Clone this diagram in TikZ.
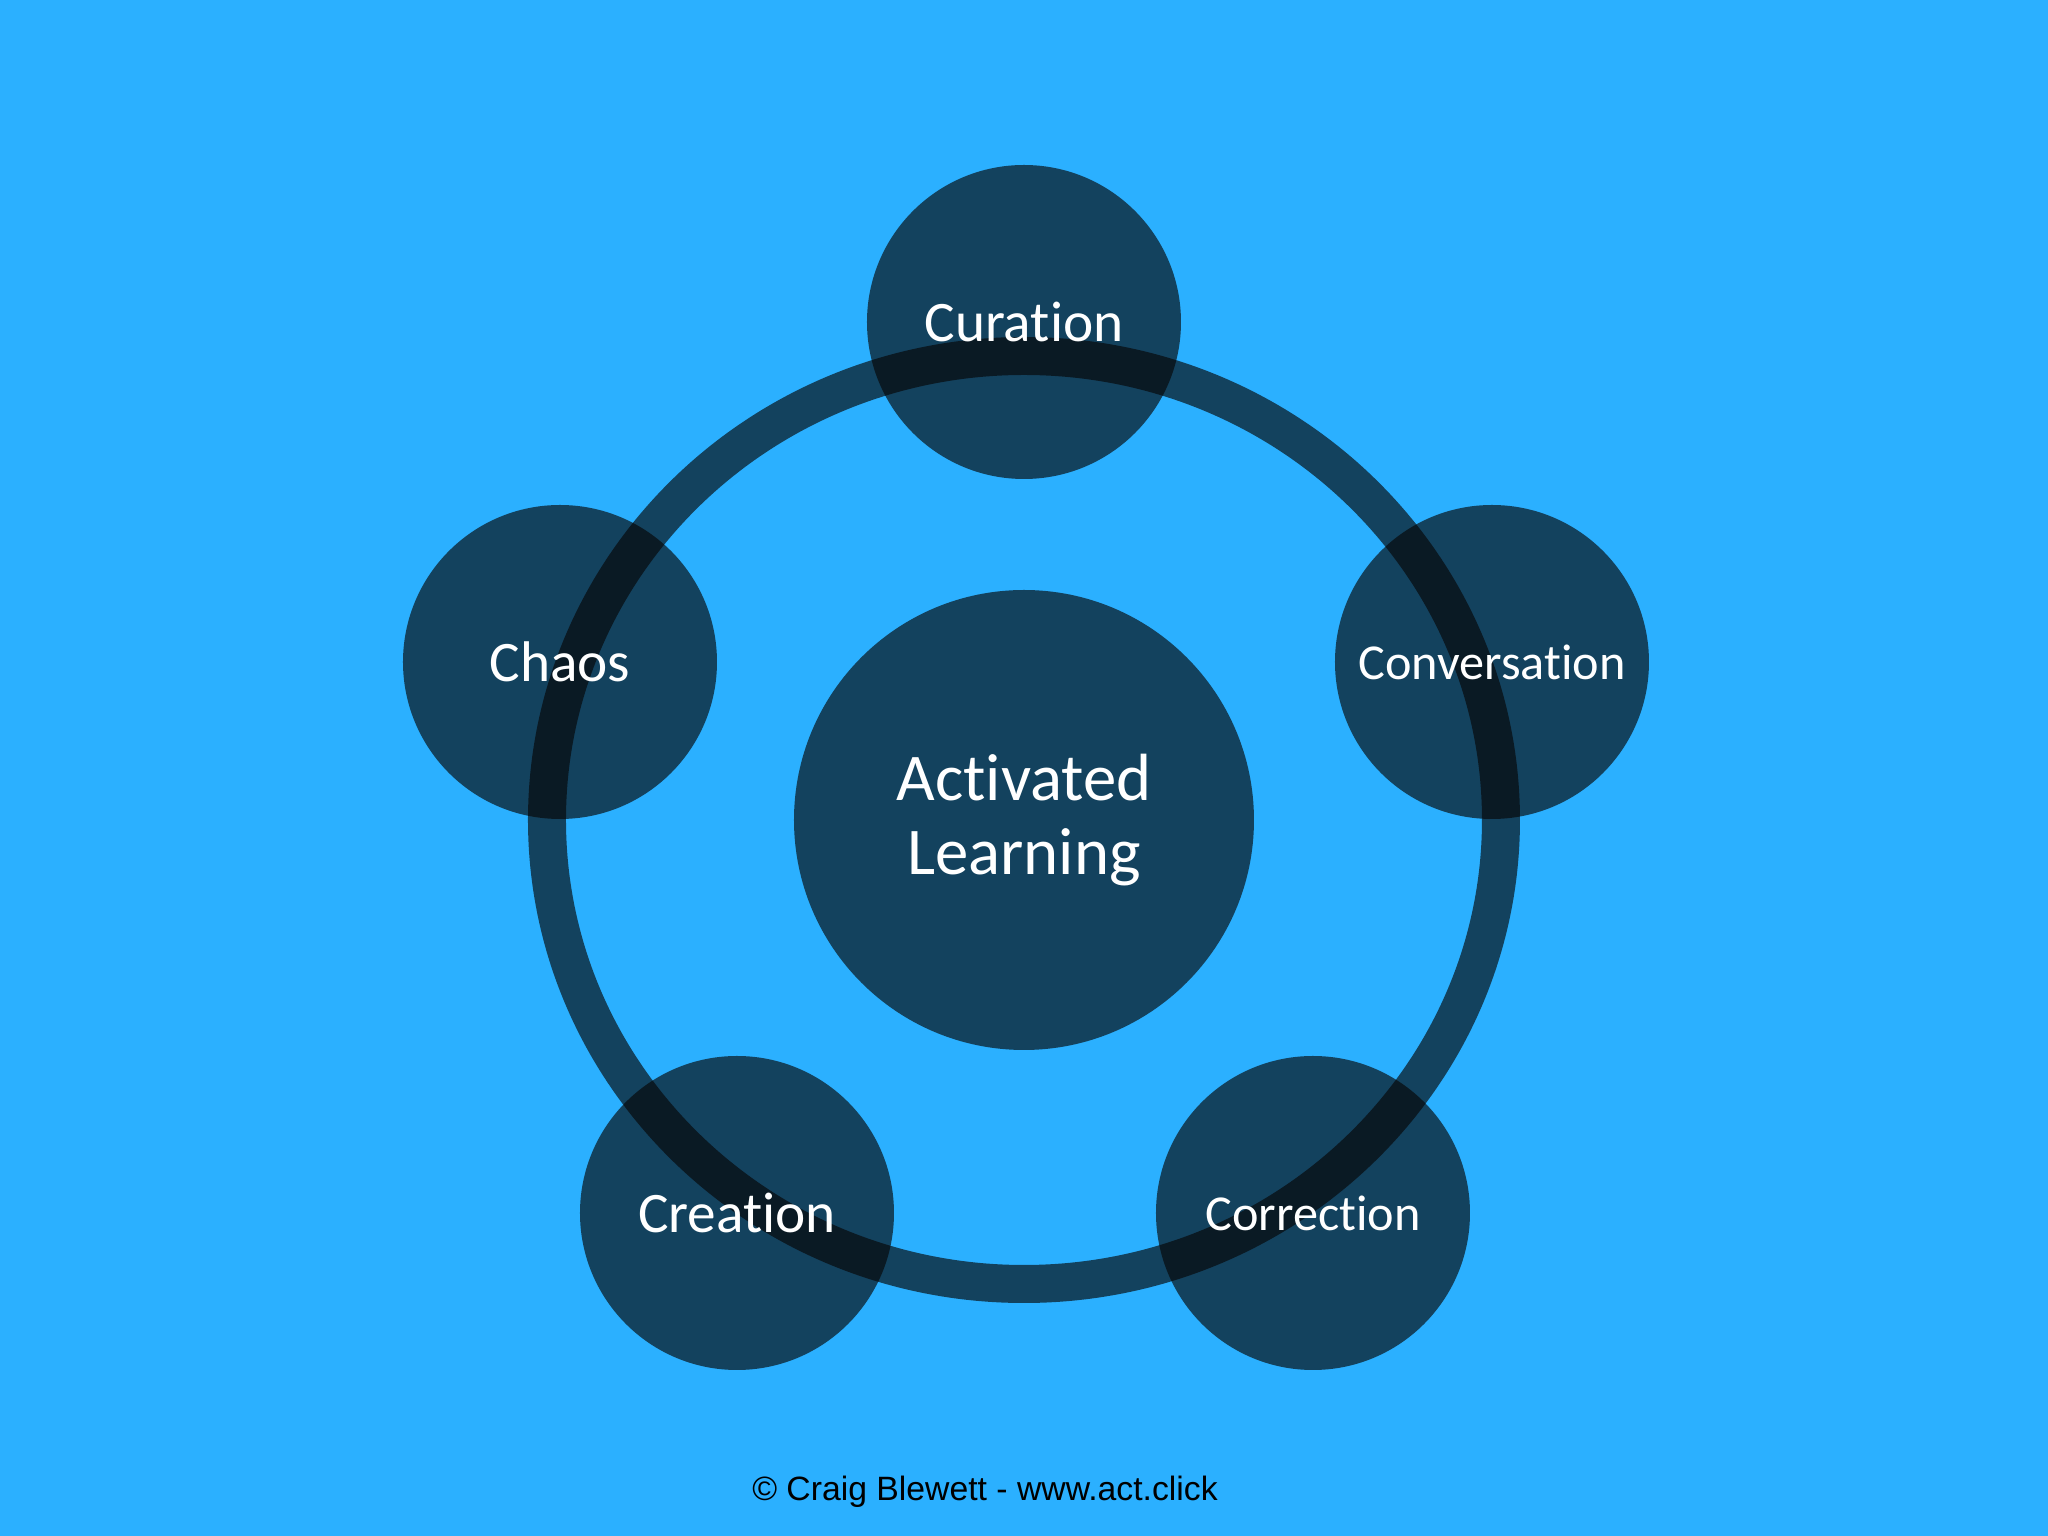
\documentclass[tikz,border=0pt]{standalone}
\usepackage{fontspec}
\setmainfont{Carlito}[Ligatures={NoCommon,NoContextual}]
\newfontfamily\creditfont{Liberation Sans}
\usepackage{tikz}
\usetikzlibrary{shapes}
\definecolor{sky}{RGB}{43,176,255}
\definecolor{shade}{RGB}{6,4,4}
\tikzstyle{hub}=[circle,fill=shade,fill opacity=0.64,text opacity=1,text=white,inner sep=0mm,minimum size=31.4mm]
\tikzstyle{core}=[hub,minimum size=46mm,align=center,font=\fontsize{19}{21}\selectfont]
\tikzstyle{ring}=[draw=shade,draw opacity=0.64,line width=3.8mm]
\tikzstyle{lbl}=[font=\fontsize{16.3}{19}\selectfont]
\tikzstyle{lbllong}=[font=\fontsize{14.3}{17}\selectfont]

\begin{document}
\begin{tikzpicture}
      \fill[sky] (-10.24,-7.16) rectangle (10.24,8.20);
      \useasboundingbox (-10.24,-7.16) rectangle (10.24,8.20);
      \node[core] at (0,0) (al) {Activated\\Learning};
      \draw[ring] (al.center) ellipse [x radius=4.77, y radius=4.64];
      \node[hub,lbl] at (0,4.98) (curation) {Curation};
      \node[hub,lbllong] at (4.68,1.58) (conversation) {Conversation};
      \node[hub,lbllong] at (2.89,-3.93) (correction) {Correction};
      \node[hub,lbl] at (-2.87,-3.93) (creation) {Creation};
      \node[hub,lbl] at (-4.64,1.58) (chaos) {Chaos};
      \node[anchor=base,font=\creditfont\fontsize{9.6}{11}\selectfont] at (-0.39,-6.81) (credit) {© Craig Blewett - www.act.click};
    \end{tikzpicture}
\end{document}
